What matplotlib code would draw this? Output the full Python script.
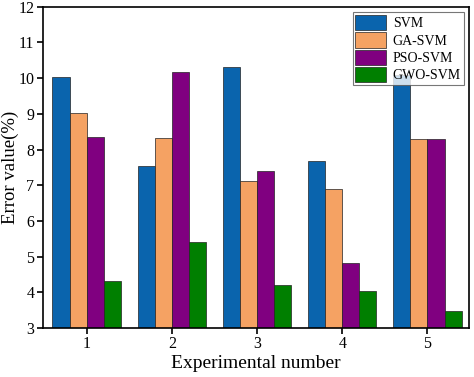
import numpy as np
import matplotlib.pyplot as plt

plt.rcParams['font.family'] = ['Liberation Serif', 'DejaVu Serif']

experiments = [1, 2, 3, 4, 5]
svm = [10.03, 7.55, 10.32, 7.67, 10.1]
ga_svm = [9.03, 8.33, 7.12, 6.90, 8.29]
pso_svm = [8.35, 10.17, 7.41, 4.82, 8.29]
gwo_svm = [4.33, 5.42, 4.20, 4.03, 3.48]

series = [
    ('SVM', svm, '#0a64ad'),
    ('GA-SVM', ga_svm, '#f5a263'),
    ('PSO-SVM', pso_svm, '#800080'),
    ('GWO-SVM', gwo_svm, '#007f00'),
]

fig, ax = plt.subplots(figsize=(4.74, 3.77), dpi=100)
fig.subplots_adjust(left=0.09, right=0.99, top=0.982, bottom=0.13)

x = np.array(experiments, dtype=float)
width = 0.2
for i, (name, vals, color) in enumerate(series):
    ax.bar(x + (i - 1.5) * width, np.array(vals) - 3, width, bottom=3,
           color=color, edgecolor='#222222', linewidth=0.5, label=name)

ax.set_xlim(0.485, 5.49)
ax.set_ylim(3, 12)
ax.set_xticks(experiments)
ax.set_yticks(range(3, 13))
ax.tick_params(axis='both', direction='out', labelsize=11.5, length=4, width=1.2, pad=2)
for s in ax.spines.values():
    s.set_linewidth(1.2)
ax.set_xlabel('Experimental number', fontsize=14, labelpad=2)
ax.set_ylabel('Error value(%)', fontsize=13.5)
ax.yaxis.set_label_coords(-0.055, 0.5)

leg = ax.legend(loc='upper right', fontsize=10, frameon=True, fancybox=False,
                edgecolor='#555555', handlelength=2.2, handleheight=1.3,
                borderpad=0.2, labelspacing=0.15, handletextpad=0.5,
                borderaxespad=0.4)
leg.get_frame().set_linewidth(0.8)

fig.savefig('out.png', dpi=100)
